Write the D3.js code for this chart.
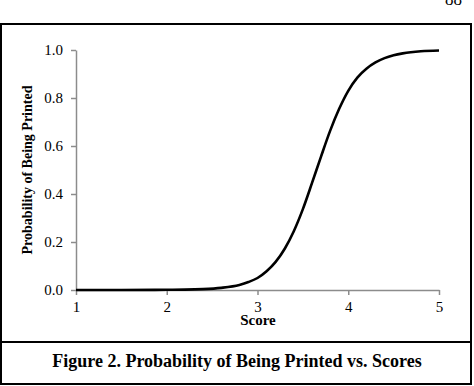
<!DOCTYPE html>
<html>
<head>
<meta charset="utf-8">
<script src="https://cdn.jsdelivr.net/npm/d3@7"></script>
<style>
  body { margin: 0; background: #fff; }
  svg { display: block; }
  text { font-family: "Liberation Serif", "Times New Roman", serif; fill: #000; }
</style>
</head>
<body>
<div id="chart"></div>
<script>
// score values
var scores = [1.0, 1.5, 2.0, 2.2, 2.4, 2.6, 2.8, 2.9, 3.0, 3.1, 3.2, 3.3, 3.4, 3.5, 3.6, 3.7, 3.8, 3.9, 4.0, 4.1, 4.2, 4.3, 4.4, 4.5, 4.6, 4.8, 5.0];
// probability of being printed at each score
var probs = [0.000, 0.000, 0.001, 0.0015, 0.0036, 0.009, 0.021, 0.033, 0.050, 0.078, 0.117, 0.172, 0.245, 0.337, 0.445, 0.556, 0.663, 0.755, 0.830, 0.885, 0.922, 0.948, 0.966, 0.978, 0.986, 0.995, 0.998];
var xTicks = [1, 2, 3, 4, 5];
var yTicks = [0, 0.2, 0.4, 0.6, 0.8, 1.0];

var width = 474, height = 386;
var svg = d3.select("#chart").append("svg").attr("width", width).attr("height", height);

// page number, cut off at the top
svg.append("text").attr("x", 462).attr("y", 5).attr("text-anchor", "end")
    .style("font-size", "17px").text("88");

// frame around figure
svg.append("rect").attr("x", 1).attr("y", 24).attr("width", 470).attr("height", 360)
    .attr("fill", "none").attr("stroke", "#000").attr("stroke-width", 2);
svg.append("line").attr("x1", 1).attr("x2", 471).attr("y1", 342).attr("y2", 342)
    .attr("stroke", "#000").attr("stroke-width", 2);

var x = d3.scaleLinear().domain([1, 5]).range([76, 439]);
var y = d3.scaleLinear().domain([0, 1]).range([290, 50]);

var gx = svg.append("g").attr("transform", "translate(0,290)")
    .call(d3.axisBottom(x).tickValues(xTicks).tickFormat(d3.format("d")).tickSizeInner(5).tickSizeOuter(0).tickPadding(6));
var gy = svg.append("g").attr("transform", "translate(76,0)")
    .call(d3.axisLeft(y).tickValues(yTicks).tickFormat(d3.format(".1f")).tickSizeInner(5).tickSizeOuter(0).tickPadding(8));
[gx, gy].forEach(function(g){
    g.select(".domain").attr("stroke", "#8c8c8c").attr("stroke-width", 1.5);
    g.selectAll(".tick line").attr("stroke", "#8c8c8c").attr("stroke-width", 1.5);
    g.selectAll(".tick text").style("font-size", "15px").style("font-family", "Liberation Serif");
});

// curve
var line = d3.line()
    .x(function(d, i){ return x(scores[i]); })
    .y(function(d){ return y(d); })
    .curve(d3.curveMonotoneX);
svg.append("path").datum(probs).attr("d", line)
    .attr("fill", "none").attr("stroke", "#000").attr("stroke-width", 2.6);

// axis titles
svg.append("text").attr("x", 258).attr("y", 325).attr("text-anchor", "middle")
    .style("font-size", "15px").style("font-weight", "bold").text("Score");
svg.append("text").attr("transform", "translate(32,170) rotate(-90)").attr("text-anchor", "middle")
    .style("font-size", "14px").style("font-weight", "bold").text("Probability of Being Printed");

// caption
svg.append("text").attr("x", 237).attr("y", 367).attr("text-anchor", "middle")
    .style("font-size", "18px").style("font-weight", "bold").text("Figure 2. Probability of Being Printed vs. Scores");
</script>
</body>
</html>
